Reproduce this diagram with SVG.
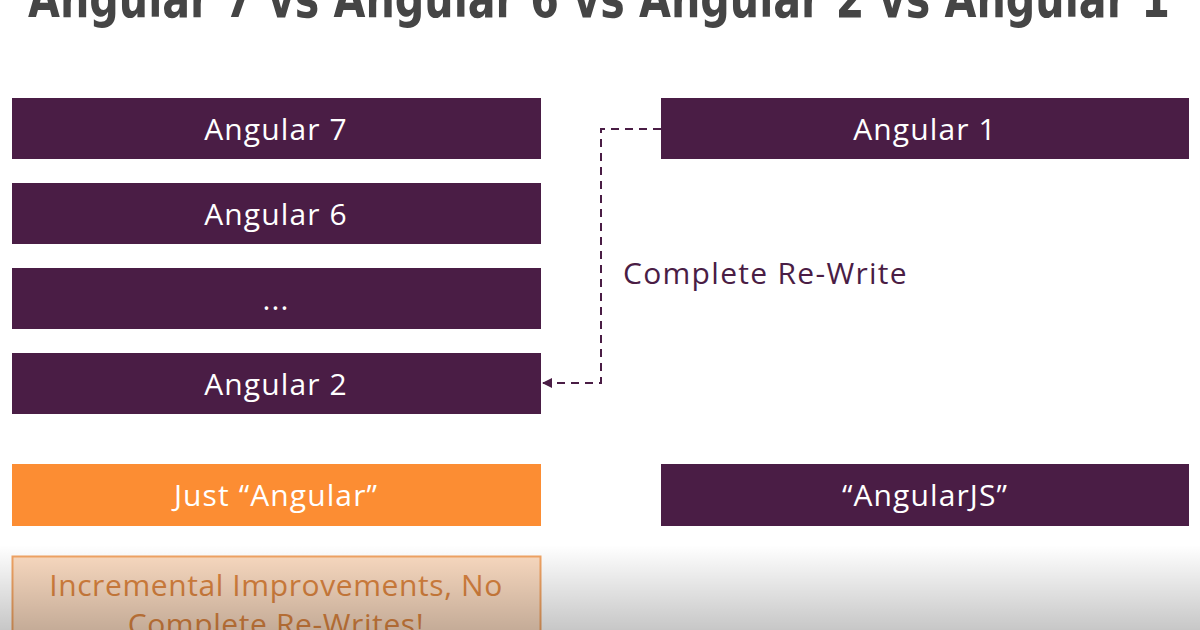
<svg xmlns="http://www.w3.org/2000/svg" width="1200" height="630" viewBox="0 0 1200 630">
<defs>
<style>
.p{fill:#4a1d45}
.o{fill:#fc8d33}
.t{font-family:"Open Sans","Noto Sans",sans-serif;font-size:30px;letter-spacing:1.1px;fill:#ffffff;text-anchor:middle}
.lab{font-family:"Open Sans","Noto Sans",sans-serif;font-size:30px;letter-spacing:1.3px;fill:#4a1d45}
.inc{font-family:"Open Sans","Noto Sans",sans-serif;font-size:30px;letter-spacing:0.6px;fill:#dc8540;text-anchor:middle}
.title{font-family:"DejaVu Sans Condensed","DejaVu Sans",sans-serif;font-weight:bold;font-size:54px;fill:#454545}
</style>
<marker id="ah" viewBox="0 0 10 10" refX="9" refY="5" markerWidth="10" markerHeight="10" markerUnits="userSpaceOnUse" orient="auto">
<path d="M0,0 L10,5 L0,10 z" fill="#4a1d45"/>
</marker>
<linearGradient id="shade" x1="0" y1="0" x2="0" y2="1">
<stop offset="0" stop-color="#000" stop-opacity="0"/>
<stop offset="1" stop-color="#000" stop-opacity="0.22"/>
</linearGradient>
</defs>
<rect width="1200" height="630" fill="#ffffff"/>
<text class="title" x="28" y="17" textLength="1142" lengthAdjust="spacingAndGlyphs">Angular 7 vs Angular 6 vs Angular 2 vs Angular 1</text>
<g id="connectors">
<path d="M661,129 H601 V383 H543" fill="none" stroke="#4a1d45" stroke-width="2" stroke-dasharray="8,6" marker-end="url(#ah)"/>
</g>
<text class="lab" x="623" y="284">Complete Re-Write</text>
<g id="n-angular7"><rect class="p" x="12" y="98" width="529" height="61"/><text class="t" x="276" y="140">Angular 7</text></g>
<g id="n-angular6"><rect class="p" x="12" y="183" width="529" height="61"/><text class="t" x="276" y="225">Angular 6</text></g>
<g id="n-dots"><rect class="p" x="12" y="268" width="529" height="61"/><text class="t" x="276" y="310">...</text></g>
<g id="n-angular2"><rect class="p" x="12" y="353" width="529" height="61"/><text class="t" x="276" y="395">Angular 2</text></g>
<g id="n-angular1"><rect class="p" x="661" y="98" width="528" height="61"/><text class="t" x="925" y="140">Angular 1</text></g>
<g id="n-just"><rect class="o" x="12" y="464" width="529" height="62"/><text class="t" x="276" y="506">Just “Angular”</text></g>
<g id="n-angularjs"><rect class="p" x="661" y="464" width="528" height="62"/><text class="t" x="925" y="506">“AngularJS”</text></g>
<g id="n-incremental"><rect x="12.5" y="556.5" width="528" height="90" fill="#fcdcc2" stroke="#f3a565" stroke-width="2"/><text class="inc" x="276" y="596">Incremental Improvements, No</text><text class="inc" x="276" y="635">Complete Re-Writes!</text></g>
<rect x="0" y="545" width="1200" height="85" fill="url(#shade)"/>
</svg>
